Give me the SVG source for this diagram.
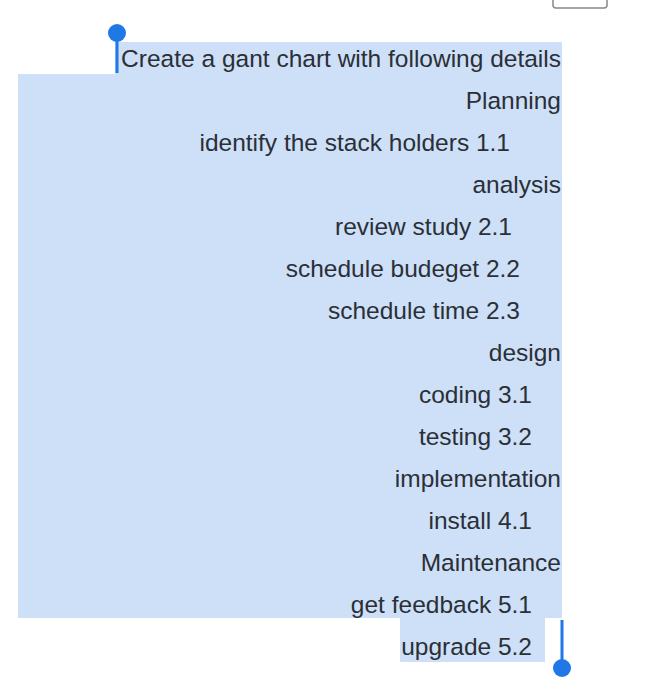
<svg xmlns="http://www.w3.org/2000/svg" width="648" height="700" viewBox="0 0 648 700">
<style>
text{font-family:"Liberation Sans",Arial,sans-serif;font-size:24.5px;fill:#2b2f36;text-anchor:end}
.sel{fill:#cde0f8}
.h{fill:#1f78e6}
</style>
<rect width="648" height="700" fill="#fff"/>
<rect x="553" y="-8" width="54" height="16" rx="3" fill="none" stroke="#888" stroke-width="1.5"/>
<g id="selection">
<path class="sel" d="M115 42H562V618H545V662H400V618H18V74H115Z"/>
</g>
<g id="texts">
<text x="561" y="67">Create a gant chart with following details</text>
<text x="561" y="109">Planning</text>
<text x="510" y="151">identify the stack holders 1.1</text>
<text x="561" y="193">analysis</text>
<text x="512" y="235">review study 2.1</text>
<text x="520" y="277">schedule budeget 2.2</text>
<text x="520" y="319">schedule time 2.3</text>
<text x="561" y="361">design</text>
<text x="532" y="403">coding 3.1</text>
<text x="532" y="445">testing 3.2</text>
<text x="561" y="487">implementation</text>
<text x="532" y="529">install 4.1</text>
<text x="561" y="571">Maintenance</text>
<text x="532" y="613">get feedback 5.1</text>
<text x="532" y="655">upgrade 5.2</text>
</g>
<g id="handles">
<circle class="h" cx="117" cy="33" r="9"/>
<rect class="h" x="115.5" y="33" width="3" height="40"/>
<rect class="h" x="560.5" y="620" width="3" height="48"/>
<circle class="h" cx="562" cy="668" r="9"/>
</g>
</svg>
